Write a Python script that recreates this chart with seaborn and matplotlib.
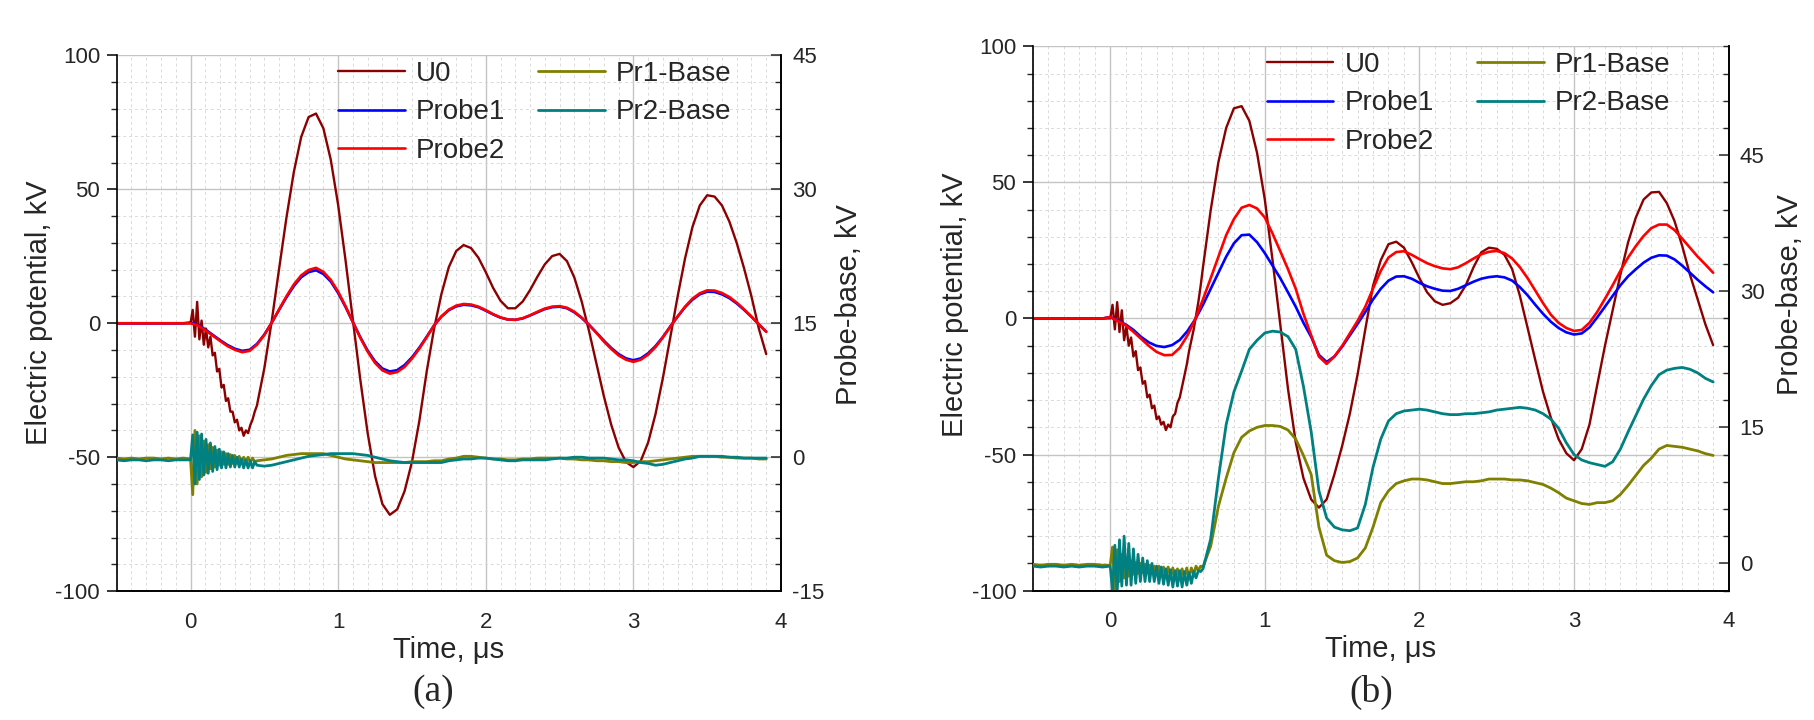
import numpy as np
import matplotlib
matplotlib.use("Agg")
import matplotlib.pyplot as plt
import seaborn as sns
from matplotlib.ticker import MultipleLocator

# ===== time grids, us =====
t_main = np.round(np.arange(-0.5, 3.9001, 0.05), 2)      # 89 points
t_burst_a = np.round(np.arange(0.0, 0.44, 0.015), 3)      # 0 .. 0.435
t_burst_b = np.round(np.arange(0.0, 0.59, 0.015), 3)      # 0 .. 0.585

# ===== panel (a) =====
# U0, kV: 10 pre-trigger points, then 0.45 .. 3.9
u0_a_slow = [0, 0, 0, 0, 0, 0, 0, 0, 0, 0,
             -30.7, -16.8, 0.8, 20.3, 39.5, 56.5, 69.6, 77.0, 78.3, 72.8,
             61.1, 44.2, 23.6, 1.2, -21.0, -41.0, -57.0, -67.5, -71.5, -69.5,
             -62.7, -51.8, -36.5, -18.0, -2.0, 11.0, 21.0, 27.0, 29.2, 28.1,
             24.5, 19.1, 13.2, 8.4, 5.6, 5.6, 8.1, 12.4, 17.4, 22.0,
             25.1, 25.9, 23.2, 17.1, 8.1, -3.0, -15.1, -27.2, -37.9, -46.4,
             -51.8, -53.7, -51.4, -44.5, -33.9, -20.4, -5.3, 10.1, 24.2, 35.9,
             44.0, 47.8, 47.3, 44.0, 38.0, 30.0, 20.5, 10.0, -2.0, -11.5]
u0_a_burst = [0, 5, -5, 8, -6, 1, -8, -2, -9, -5,
              -12, -11, -18, -17, -24, -23, -29, -28, -33, -33,
              -37, -36, -40, -39, -42, -40, -41, -38, -36, -33]

probe1_a = [0, 0, 0, 0, 0, 0, 0, 0, 0, 0,
            0.3, -0.5, -2.3, -4.3, -6.3, -8.1, -9.5, -10.3, -9.9, -7.7,
            -4.2, 0.2, 5.0, 9.7, 13.9, 17.2, 19.1, 19.8, 18.4, 15.6,
            11.3, 6.1, 0.4, -5.2, -10.2, -14.2, -16.9, -18.0, -17.5, -15.6,
            -12.7, -9.1, -5.0, -0.8, 2.5, 4.9, 6.3, 6.9, 6.7, 6.0,
            4.7, 3.3, 2.1, 1.4, 1.3, 1.8, 2.9, 4.1, 5.3, 6.0,
            6.2, 5.6, 4.1, 2.0, -0.6, -3.5, -6.5, -9.2, -11.5, -13.1,
            -13.8, -13.1, -11.2, -8.5, -5.1, -1.2, 2.5, 6.0, 8.8, 10.8,
            11.8, 11.7, 10.8, 9.4, 7.4, 5.0, 2.4, -0.4, -3.1]
probe2_a = [0, 0, 0, 0, 0, 0, 0, 0, 0, 0,
            0, -0.8, -2.6, -4.6, -6.6, -8.5, -9.9, -10.8, -10.3, -8.0,
            -4.4, 0.2, 5.2, 10.1, 14.5, 17.9, 19.9, 20.7, 19.2, 16.2,
            11.8, 6.4, 0.4, -5.4, -10.6, -14.8, -17.6, -18.8, -18.2, -16.3,
            -13.2, -9.5, -5.2, -0.8, 2.6, 5.1, 6.6, 7.2, 7.0, 6.2,
            4.9, 3.4, 2.2, 1.4, 1.3, 1.9, 3.0, 4.3, 5.5, 6.2,
            6.4, 5.8, 4.3, 2.1, -0.6, -3.6, -6.8, -9.6, -12.0, -13.6,
            -14.4, -13.6, -11.7, -8.9, -5.3, -1.3, 2.6, 6.2, 9.2, 11.2,
            12.3, 12.2, 11.3, 9.8, 7.7, 5.2, 2.5, -0.4, -3.2]

# probe-base, kV (right axis)
pr1_a_slow = [-0.1, -0.2, -0.1, -0.2, -0.1, -0.1, -0.2, -0.1, -0.2, -0.1,
              -0.4, -0.3, -0.2, 0.0, 0.2, 0.3, 0.4, 0.4, 0.4, 0.4,
              0.2, 0.0, -0.2, -0.3, -0.4, -0.5, -0.6, -0.6, -0.6, -0.6,
              -0.6, -0.5, -0.5, -0.5, -0.4, -0.4, -0.2, -0.1, 0.1, 0.1,
              0.0, -0.1, -0.2, -0.2, -0.3, -0.3, -0.2, -0.2, -0.1, -0.1,
              -0.1, -0.1, -0.2, -0.2, -0.3, -0.3, -0.4, -0.4, -0.5, -0.5,
              -0.6, -0.6, -0.5, -0.5, -0.4, -0.3, -0.2, -0.1, 0.0, 0.1,
              0.1, 0.1, 0.1, 0.0, 0.0, -0.1, -0.1, -0.1, -0.2, -0.2]
pr1_a_burst = [-0.2, -4.2, 3.0, -3.0, 2.4, -2.2, 1.8, -1.7, 1.4, -1.3,
               1.1, -1.1, 0.8, -0.9, 0.6, -0.8, 0.4, -0.8, 0.3, -0.7,
               0.2, -0.7, 0.1, -0.7, 0.0, -0.6, 0.0, -0.6, -0.1, -0.5]
pr2_a_slow = [-0.3, -0.4, -0.3, -0.3, -0.4, -0.3, -0.3, -0.4, -0.3, -0.3,
              -0.9, -1.0, -0.9, -0.7, -0.5, -0.3, -0.1, 0.1, 0.2, 0.3,
              0.4, 0.4, 0.4, 0.4, 0.3, 0.2, 0.0, -0.2, -0.4, -0.5,
              -0.6, -0.6, -0.6, -0.6, -0.6, -0.6, -0.4, -0.3, -0.2, -0.2,
              -0.1, -0.1, -0.2, -0.3, -0.4, -0.4, -0.3, -0.3, -0.3, -0.3,
              -0.2, -0.1, -0.1, 0.0, 0.0, -0.1, -0.1, -0.1, -0.2, -0.3,
              -0.3, -0.4, -0.6, -0.7, -0.9, -0.8, -0.6, -0.4, -0.2, -0.1,
              0.1, 0.1, 0.1, 0.1, 0.0, 0.0, -0.1, -0.1, -0.1, -0.1]
pr2_a_burst = [-0.3, 2.5, -3.0, 2.8, -2.5, 2.6, -2.0, 2.0, -1.8, 1.6,
               -1.6, 1.2, -1.4, 0.9, -1.2, 0.6, -1.2, 0.4, -1.1, 0.2,
               -1.1, 0.0, -1.1, -0.2, -1.2, -0.3, -1.2, -0.4, -1.2, -0.5]

# ===== panel (b) =====
# U0, kV: 10 pre-trigger points, then 0.6 .. 3.9
u0_b_slow = [0, 0, 0, 0, 0, 0, 0, 0, 0, 0,
             18.8, 39.8, 57.5, 70.0, 77.2, 78.0, 72.6, 60.8, 43.7, 21.4,
             -2.2, -25.9, -45.5, -58.7, -66.5, -69.5, -66.5, -57.3, -46.9, -35.0,
             -20.6, -4.0, 12.0, 21.4, 27.3, 28.2, 26.0, 20.7, 14.8, 9.6,
             6.3, 5.0, 5.6, 7.6, 12.2, 18.8, 24.3, 26.0, 25.6, 23.4,
             18.1, 8.3, -3.5, -15.4, -27.0, -36.4, -44.3, -49.5, -52.1, -48.0,
             -39.0, -24.5, -10.1, 3.0, 16.1, 28.0, 37.1, 43.7, 46.3, 46.5,
             42.4, 35.8, 26.6, 16.1, 7.0, -2.2, -9.8]
u0_b_burst = [0, 5, -4, 6, -5, 3, -8, -3, -10, -7,
              -14, -12, -19, -18, -24, -23, -29, -28, -33, -32,
              -37, -36, -39, -38, -41, -39, -40, -36, -35, -31,
              -29, -25, -21, -17, -12, -8, -4, 1, 6, 12]

probe1_b = [0, 0, 0, 0, 0, 0, 0, 0, 0, 0,
            0.5, -0.8, -2.2, -4.2, -6.8, -8.8, -10.1, -10.5, -9.8, -7.9,
            -4.6, -0.3, 5.0, 10.9, 16.8, 22.7, 27.6, 30.6, 30.8, 28.0,
            24.0, 19.4, 14.8, 9.6, 4.3, -1.6, -6.8, -13.4, -16.0, -14.0,
            -10.4, -6.2, -2.0, 2.4, 7.0, 10.9, 13.9, 15.4, 15.5, 14.6,
            13.1, 11.8, 10.9, 10.2, 10.1, 10.9, 12.2, 13.5, 14.6, 15.2,
            15.5, 15.1, 13.9, 11.5, 8.5, 5.0, 1.7, -1.2, -3.5, -5.1,
            -5.9, -5.5, -3.3, 0.4, 4.3, 8.3, 12.2, 15.5, 18.1, 20.5,
            22.3, 23.2, 23.1, 21.7, 19.4, 16.8, 14.2, 11.8, 9.6]
probe2_b = [0, 0, 0, 0, 0, 0, 0, 0, 0, 0,
            0.5, -1.0, -2.5, -4.9, -7.5, -10.1, -12.3, -13.5, -13.4, -10.8,
            -6.2, -0.3, 7.0, 14.8, 22.7, 30.6, 36.5, 40.7, 41.7, 40.4,
            37.1, 31.2, 24.7, 18.1, 10.9, 1.7, -6.2, -14.0, -16.7, -14.0,
            -10.1, -5.5, -0.9, 4.3, 11.0, 17.5, 22.4, 24.4, 24.7, 23.4,
            21.8, 20.3, 19.2, 18.4, 18.1, 18.8, 20.3, 22.0, 23.6, 24.5,
            24.8, 24.0, 22.0, 18.8, 14.8, 10.2, 5.6, 1.4, -1.6, -3.5,
            -4.6, -4.2, -1.6, 2.4, 7.2, 12.2, 17.5, 22.4, 26.6, 30.3,
            33.2, 34.5, 34.5, 32.5, 29.3, 26.0, 22.7, 19.8, 16.8]

pr1_b_slow = [-0.1, -0.2, -0.1, -0.1, -0.2, -0.1, -0.2, -0.1, -0.1, -0.2,
              -0.4, 1.9, 6.3, 9.4, 12.2, 13.9, 14.6, 15.0, 15.2, 15.2,
              15.1, 14.7, 13.7, 11.9, 9.8, 4.0, 0.9, 0.3, 0.1, 0.2,
              0.6, 1.7, 4.0, 6.7, 8.0, 8.8, 9.1, 9.3, 9.3, 9.2,
              9.0, 8.8, 8.8, 8.9, 9.0, 9.0, 9.1, 9.3, 9.3, 9.3,
              9.2, 9.2, 9.1, 8.9, 8.7, 8.3, 7.8, 7.2, 6.9, 6.6,
              6.5, 6.7, 6.7, 6.9, 7.6, 8.6, 9.7, 10.8, 11.6, 12.6,
              13.0, 12.9, 12.8, 12.6, 12.4, 12.1, 11.9]
pr1_b_burst = [-0.2, 1.8, -2.8, 1.5, -2.0, 1.0, -1.6, 0.6, -1.4, 0.3,
               -1.2, 0.1, -1.1, 0.0, -1.0, -0.1, -1.0, -0.2, -1.1, -0.3,
               -1.2, -0.3, -1.3, -0.4, -1.4, -0.4, -1.5, -0.5, -1.6, -0.6,
               -1.7, -0.6, -1.6, -0.5, -1.5, -0.5, -1.2, -0.3, -0.8, -0.3]
pr2_b_slow = [-0.3, -0.4, -0.3, -0.3, -0.4, -0.3, -0.4, -0.3, -0.3, -0.4,
              -0.6, 2.7, 9.4, 15.3, 18.9, 21.2, 23.6, 24.6, 25.4, 25.6,
              25.5, 25.0, 23.6, 19.5, 14.5, 8.0, 5.0, 4.0, 3.7, 3.6,
              3.9, 6.5, 10.6, 13.7, 15.7, 16.5, 16.8, 16.9, 17.0, 16.9,
              16.7, 16.5, 16.4, 16.4, 16.5, 16.5, 16.6, 16.7, 16.9, 17.0,
              17.1, 17.2, 17.1, 16.9, 16.5, 15.9, 14.9, 13.3, 12.0, 11.4,
              11.1, 10.9, 10.7, 11.2, 12.6, 14.5, 16.3, 18.1, 19.6, 20.8,
              21.3, 21.5, 21.6, 21.4, 21.0, 20.4, 20.0]
pr2_b_burst = [-0.3, -3.0, 2.0, -3.2, 2.6, -2.5, 3.0, -2.4, 2.2, -2.4,
               1.6, -2.2, 1.0, -2.0, 0.6, -2.0, 0.3, -2.0, 0.0, -2.0,
               -0.3, -2.2, -0.4, -2.3, -0.6, -2.4, -0.7, -2.6, -0.8, -2.5,
               -0.8, -2.6, -0.9, -2.4, -1.0, -2.2, -0.9, -1.6, -0.8, -0.9]

labels = ['U0', 'Probe1', 'Probe2', 'Pr1-Base', 'Pr2-Base']
colors = ['#8b0000', '#0000ff', '#ff0000', '#808000', '#008080']


def join(slow, burst, t_burst, t_cut):
    # slow samples outside the trigger burst + dense samples inside it
    ts = t_main[(t_main < 0) | (t_main > t_cut - 1e-6)]
    t = np.concatenate([ts[ts < 0], t_burst, ts[ts >= 0]])
    v = np.concatenate([slow[:10], burst, slow[10:]])
    return t, v


def draw_panel(rect, u0, p1, p2, b1, b2, right_lim, legend_x, colspace,
               ylab_y, rlab_y):
    ax = fig.add_axes(rect)
    ax2 = ax.twinx()

    sns.lineplot(x=u0[0], y=u0[1], ax=ax, color=colors[0], lw=1.7,
                 label=labels[0], legend=False, sort=False, estimator=None)
    sns.lineplot(x=t_main, y=p1, ax=ax, color=colors[1], lw=1.9,
                 label=labels[1], legend=False, sort=False, estimator=None)
    sns.lineplot(x=t_main, y=p2, ax=ax, color=colors[2], lw=1.9,
                 label=labels[2], legend=False, sort=False, estimator=None)
    sns.lineplot(x=b1[0], y=b1[1], ax=ax2, color=colors[3], lw=2.0,
                 label=labels[3], legend=False, sort=False, estimator=None)
    sns.lineplot(x=b2[0], y=b2[1], ax=ax2, color=colors[4], lw=2.0,
                 label=labels[4], legend=False, sort=False, estimator=None)

    ax.set_xlim(-0.5, 4)
    ax.set_ylim(-100, 100)
    ax2.set_ylim(*right_lim)

    ax.xaxis.set_major_locator(MultipleLocator(1))
    ax.xaxis.set_minor_locator(MultipleLocator(0.1))
    ax.yaxis.set_major_locator(MultipleLocator(50))
    ax.yaxis.set_minor_locator(MultipleLocator(10))
    ax2.yaxis.set_major_locator(MultipleLocator(15))
    ax2.yaxis.set_minor_locator(MultipleLocator(3))

    ax.set_axisbelow(True)
    ax.grid(which='major', color='#c4c4c4', lw=1.0, ls='-')
    ax.grid(which='minor', color='#dadada', lw=0.7, ls=(0, (3, 3)))

    for a in (ax, ax2):
        a.spines['top'].set_visible(False)
        for s in a.spines.values():
            s.set_linewidth(1.2)
            s.set_color('black')
    ax2.spines['left'].set_visible(False)

    ax.tick_params(which='major', direction='out', length=7, width=1.1,
                   labelsize=16, pad=5, color='black')
    ax.tick_params(which='minor', direction='out', length=4, width=1.0)
    ax.tick_params(axis='x', which='major', pad=8)
    ax2.tick_params(which='major', direction='in', length=7, width=1.1,
                    labelsize=16, pad=8)
    ax2.tick_params(which='minor', direction='in', length=4, width=1.0)

    ax.set_xlabel('Time, μs', fontsize=21, labelpad=2)
    ax.set_ylabel('Electric potential, kV', fontsize=21, labelpad=2, y=ylab_y)
    ax2.set_ylabel('Probe-base, kV', fontsize=21, labelpad=8, y=rlab_y)

    h1, l1 = ax.get_legend_handles_labels()
    h2, l2 = ax2.get_legend_handles_labels()
    ax2.legend(h1 + h2, l1 + l2, loc='upper left',
               bbox_to_anchor=(legend_x, 0.99), ncol=2, frameon=False,
               fontsize=20, handlelength=2.4, handletextpad=0.4,
               labelspacing=0.45, columnspacing=colspace,
               borderpad=0, borderaxespad=0)
    return ax, ax2


sns.set_style("white")
plt.rcParams['font.family'] = ['Liberation Sans', 'DejaVu Sans']
plt.rcParams['axes.unicode_minus'] = False

fig = plt.figure(figsize=(18.15, 7.2), dpi=100)

draw_panel([0.0643, 0.179, 0.366, 0.744],
           join(u0_a_slow, u0_a_burst, t_burst_a, 0.45), probe1_a, probe2_a,
           join(pr1_a_slow, pr1_a_burst, t_burst_a, 0.45),
           join(pr2_a_slow, pr2_a_burst, t_burst_a, 0.45),
           (-15, 45), 0.333, 1.2, 0.52, 0.535)
draw_panel([0.5691, 0.1797, 0.3833, 0.756],
           join(u0_b_slow, u0_b_burst, t_burst_b, 0.6), probe1_b, probe2_b,
           join(pr1_b_slow, pr1_b_burst, t_burst_b, 0.6),
           join(pr2_b_slow, pr2_b_burst, t_burst_b, 0.6),
           (-3, 57), 0.336, 1.55, 0.525, 0.544)

fig.text(433 / 1815, 1 - 692 / 720, '(a)', ha='center', va='center',
         fontsize=27, family='Liberation Serif')
fig.text(1371 / 1815, 1 - 692 / 720, '(b)', ha='center', va='center',
         fontsize=27, family='Liberation Serif')

fig.savefig('out.png', dpi=100)
